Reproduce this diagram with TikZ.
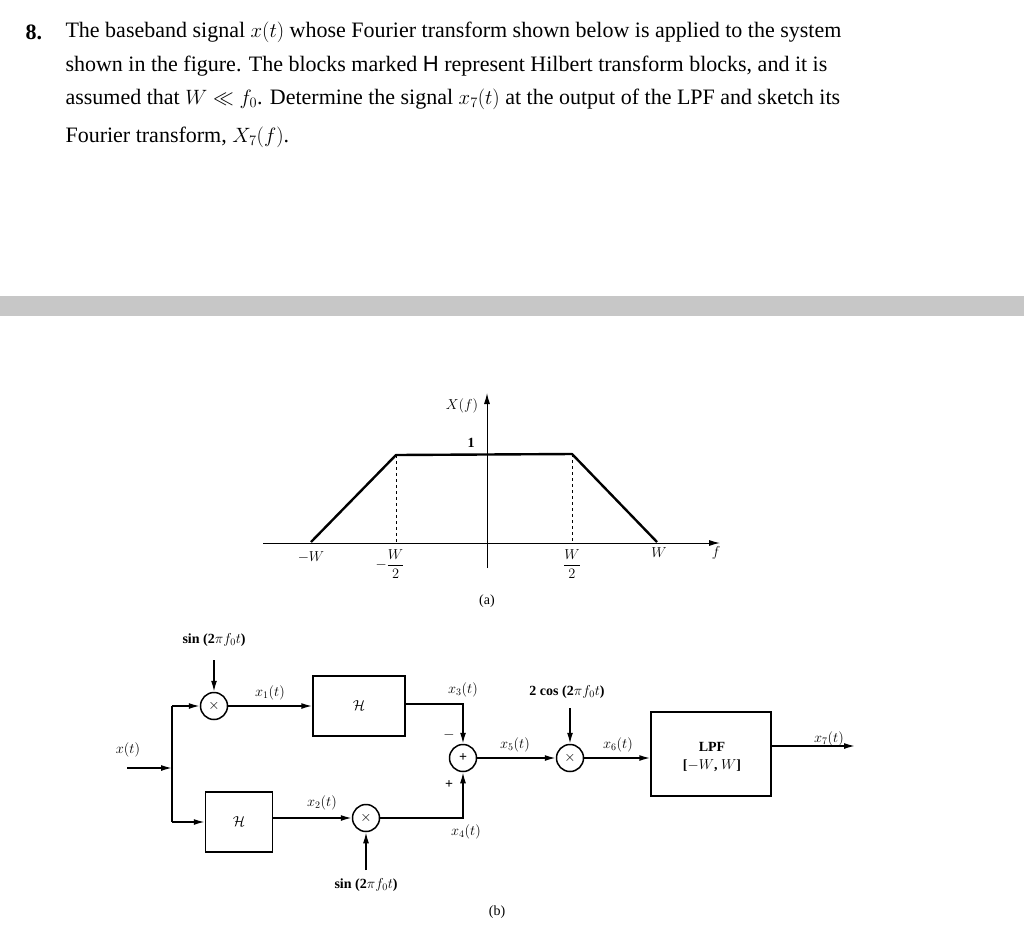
\documentclass[tikz,border=0pt]{standalone}
\usepackage{fontspec}
\setmainfont{Liberation Serif}
\newfontfamily\sansf{Liberation Sans}
\usetikzlibrary{arrows.meta}
\begin{document}
\begin{tikzpicture}[x=1pt,y=-1pt,
  sig/.style={line width=1.5pt,-{Latex[length=11pt,width=6pt]}},
  ln/.style={line width=1.5pt},
  blk/.style={draw,line width=1.5pt,minimum width=#1,inner sep=0pt,font=\fontsize{15}{17}\selectfont},
  op/.style={draw,circle,line width=1.5pt,minimum size=27pt,inner sep=0pt,font=\fontsize{14}{16}\selectfont},
  lab/.style={font=\fontsize{14}{16}\selectfont\bfseries},
  hd/.style={font=\fontsize{22}{26}\selectfont,anchor=west}]
\useasboundingbox (0,0) rectangle (1024,940);
% header
\node[hd,font=\fontsize{22}{26}\selectfont\bfseries] (n8) at (22,32) {8.};
\node[hd] (l1) at (62,32) {The baseband signal $x(t)$ whose Fourier transform shown below is applied to the system};
\node[hd] (l2) at (62,66) {shown in the figure. The blocks marked {\sansf H} represent Hilbert transform blocks, and it is};
\node[hd] (l3) at (62,99) {assumed that $W \ll f_0$. Determine the signal $x_7(t)$ at the output of the LPF and sketch its};
\node[hd] (l4) at (62,137) {Fourier transform, $X_7(f)$.};
\fill[black!22] (0,296) rectangle (1024,316);
% (a)
\coordinate (ax0) at (263,543); \coordinate (ax1) at (720,543);
\coordinate (ay0) at (487,568); \coordinate (ay1) at (487,393);
\draw[line width=1pt,-{Latex[length=11pt,width=6pt]}] (ax0) -- (ax1);
\draw[line width=1pt,-{Latex[length=11pt,width=6pt]}] (ay0) -- (ay1);
\coordinate (p1) at (311,542); \coordinate (p2) at (396,455);
\coordinate (p3) at (572,454); \coordinate (p4) at (657,542);
\draw[line width=2.4pt,line join=round] (p1) -- (p2) -- (p3) -- (p4);
\draw[dashed,line width=0.9pt] (p2) -- (396,543);
\draw[dashed,line width=0.9pt] (p3) -- (572,543);
\node[lab] (tw1) at (311,557) {$-W$};
\node[lab] (tw2) at (390,564) {$-\displaystyle\frac{W}{2}$};
\node[lab] (tw3) at (572,564) {$\displaystyle\frac{W}{2}$};
\node[lab] (tw4) at (659,553) {$W$};
\node[lab] (tf) at (716,553) {$f$};
\node[lab] (tx) at (462,406) {$X(f)$};
\node[lab] (t1) at (471,443) {1};
\node[lab,font=\fontsize{14}{16}\selectfont] (ta) at (487,601) {(a)};
% (b)
\coordinate (xin) at (127,768);
\coordinate (br) at (172,768);
\node[op] (m1) at (214,706) {$\times$};
\node[blk=92pt,minimum height=60pt] (h1) at (359,706) {$\mathcal{H}$};
\node[blk=67pt,minimum height=60pt] (h2) at (239,822) {$\mathcal{H}$};
\node[op] (m2) at (366,818) {$\times$};
\node[op] (sm) at (463,758) {\textbf{+}};
\node[op] (m3) at (570,758) {$\times$};
\node[blk=120pt,minimum height=84pt] (lpf) at (711,754) {};
\node[lab,align=center] (lpft) at (712,757) {LPF\\[2pt][$-W$, $W$]};
\node[lab] (lx) at (128,750) {$x(t)$};
\node[lab] (ls1) at (214,640) {sin (2$\pi f_0 t$)};
\node[lab] (ls2) at (366,885) {sin (2$\pi f_0 t$)};
\node[lab] (lc) at (567,692) {2 cos (2$\pi f_0 t$)};
\coordinate (s1) at (214,660); \coordinate (s2) at (366,870); \coordinate (c3) at (570,708);
\coordinate (xout) at (855,746);
\draw[sig] (xin) -- (br);
\draw[ln] (br) -- (172,706); \draw[ln] (br) -- (172,822);
\draw[sig] (172,706) -- (m1);
\draw[sig] (172,822) -- (h2);
\draw[sig] (s1) -- (m1);
\draw[sig] (m1) -- (h1);
\draw[sig] (h1.east |- 704,704) -| (sm);
\draw[sig] (h2.east |- m2) -- (m2);
\draw[sig] (s2) -- (m2);
\draw[sig] (m2) -| (sm);
\draw[sig] (sm) -- (m3);
\draw[sig] (c3) -- (m3);
\draw[sig] (m3) -- (lpf.west |- m3);
\draw[sig] (lpf.east |- xout) -- (xout);
\node[lab] (lx1) at (270,693) {$x_1(t)$};
\node[lab] (lx2) at (322,803) {$x_2(t)$};
\node[lab] (lx3) at (463,690) {$x_3(t)$};
\node[lab] (lx4) at (466,832) {$x_4(t)$};
\node[lab] (lx5) at (515,745) {$x_5(t)$};
\node[lab] (lx6) at (618,745) {$x_6(t)$};
\node[lab] (lx7) at (829,739) {$x_7(t)$};
\node[lab] (mi) at (449,735) {$-$};
\node[lab] (pl) at (449,785) {+};
\node[lab,font=\fontsize{14}{16}\selectfont] (tb) at (497,912) {(b)};
\end{tikzpicture}
\end{document}
